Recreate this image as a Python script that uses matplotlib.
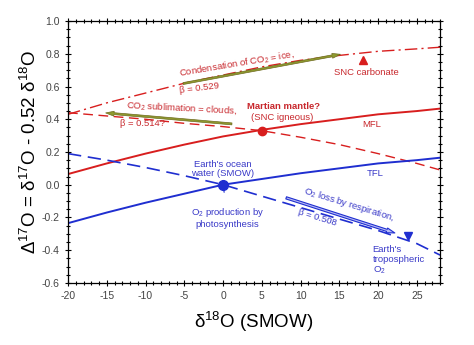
import numpy as np
import matplotlib
matplotlib.use("Agg")
import matplotlib.pyplot as plt
from matplotlib.patches import FancyArrowPatch
from matplotlib.ticker import MultipleLocator, FormatStrFormatter

plt.rcParams['font.family'] = ['Liberation Sans', 'DejaVu Sans']
plt.rcParams['mathtext.fontset'] = 'custom'
plt.rcParams['mathtext.rm'] = 'Liberation Sans'
plt.rcParams['mathtext.it'] = 'Liberation Sans'
plt.rcParams['axes.unicode_minus'] = False

# curves
x_pts = [-20, -15, -10, -5, 0, 5, 10, 15, 20, 25, 28]
condensation = [0.43, 0.50, 0.56, 0.62, 0.67, 0.72, 0.76, 0.79, 0.815, 0.83, 0.84]
sublimation = [0.44, 0.42, 0.40, 0.375, 0.355, 0.33, 0.29, 0.245, 0.19, 0.13, 0.09]
mfl = [0.065, 0.13, 0.19, 0.245, 0.295, 0.335, 0.37, 0.40, 0.43, 0.45, 0.465]
tfl = [-0.235, -0.17, -0.11, -0.055, 0.0, 0.035, 0.07, 0.10, 0.13, 0.15, 0.165]
respiration = [0.19, 0.15, 0.105, 0.055, 0.0, -0.07, -0.14, -0.21, -0.28, -0.36, -0.43]

# sample points
mantle = (5.0, 0.33)
smow = (0.0, 0.0)
snc_carb = (18.1, 0.76)
tropo_o2 = (23.8, -0.315)

# process arrows (start, end)
arrow_cond = ((-5.5, 0.615), (15.5, 0.80))
arrow_subl = ((1.5, 0.37), (-15.5, 0.44))
arrow_resp = ((7.8, -0.075), (22.5, -0.3))

red = '#d81e1e'
red_txt = '#c8282d'
blue = '#1f2ed0'
blue_txt = '#3a3ac8'
olive = '#8e9a2e'

fig = plt.figure(figsize=(4.74, 3.45), dpi=100)
ax = fig.add_axes([0.1435, 0.18, 0.785, 0.759])

ax.plot(x_pts, condensation, color=red, lw=1.0, dashes=(9, 3, 1.5, 3))
ax.plot(x_pts, sublimation, color=red, lw=1.0, dashes=(7, 4))
ax.plot(x_pts, mfl, color=red, lw=1.4)
ax.plot(x_pts, tfl, color=blue, lw=1.4)
ax.plot(x_pts, respiration, color=blue, lw=1.2, dashes=(8, 4))

ax.plot(*mantle, 'o', color=red, ms=6, zorder=5)
ax.plot(*smow, 'o', color=blue, ms=7, zorder=5)
ax.plot(*snc_carb, '^', color=red, ms=6, zorder=5)
ax.plot(*tropo_o2, 'v', color=blue, ms=6, zorder=5)

for (s, e) in [arrow_cond, arrow_subl]:
    ax.add_patch(FancyArrowPatch(s, e, arrowstyle='simple,head_width=3.5,head_length=6,tail_width=1.4',
                                 fc=olive, ec='#6e6a1e', lw=0.5, zorder=4))
ax.add_patch(FancyArrowPatch(arrow_resp[0], arrow_resp[1],
                             arrowstyle='simple,head_width=3.5,head_length=6,tail_width=1.6',
                             fc='#b8bcf5', ec=blue, lw=0.8, zorder=4))

fs = 6.8
ax.text(1.7, 0.74, r'Condensation of CO$_2$ = ice,', color=red_txt, fontsize=fs,
        rotation=9.5, ha='center', va='center')
ax.text(-3.0, 0.59, 'β = 0.529', color=red_txt, fontsize=fs,
        rotation=7, ha='center', va='center')
ax.text(18.5, 0.685, 'SNC carbonate', color=red_txt, fontsize=fs, ha='center', va='center')
ax.text(-5.3, 0.47, r'CO$_2$ sublimation = clouds,', color=red_txt, fontsize=fs,
        rotation=-3, ha='center', va='center')
ax.text(-13.3, 0.372, 'β = 0.514?', color=red_txt, fontsize=fs,
        ha='left', va='center')
ax.text(7.8, 0.475, 'Martian mantle?', color=red_txt, fontsize=fs, fontweight='bold',
        ha='center', va='center')
ax.text(7.6, 0.41, '(SNC igneous)', color=red_txt, fontsize=fs, ha='center', va='center')
ax.text(19.2, 0.37, 'MFL', color=red_txt, fontsize=fs, ha='center', va='center')
ax.text(19.6, 0.07, 'TFL', color=blue_txt, fontsize=fs, ha='center', va='center')
ax.text(0.0, 0.095, "Earth's ocean\nwater (SMOW)", color=blue_txt, fontsize=fs,
        ha='center', va='center', linespacing=1.0)
ax.annotate('O$_2$ production by\nphotosynthesis', xy=smow, xytext=(0.6, -0.2),
            color=blue_txt, fontsize=fs, ha='center', va='center', linespacing=1.1,
            arrowprops=dict(arrowstyle='-', color=blue, lw=0.8, shrinkA=8, shrinkB=2))
ax.text(16.3, -0.12, 'O$_2$ loss by respiration,', color=blue_txt, fontsize=fs,
        rotation=-17, ha='center', va='center')
ax.text(12.1, -0.2, 'β = 0.508', color=blue_txt, fontsize=fs,
        rotation=-17, ha='center', va='center')
ax.text(19.3, -0.465, "Earth's\ntropospheric\nO$_2$", color=blue_txt, fontsize=fs,
        ha='left', va='center', linespacing=1.1)

ax.set_xlim(-20, 28)
ax.set_ylim(-0.6, 1.0)
ax.xaxis.set_major_locator(MultipleLocator(5))
ax.xaxis.set_minor_locator(MultipleLocator(1))
ax.yaxis.set_major_locator(MultipleLocator(0.2))
ax.yaxis.set_minor_locator(MultipleLocator(0.05))
ax.yaxis.set_major_formatter(FormatStrFormatter('%.1f'))
ax.tick_params(which='both', direction='inout', top=True, right=True,
               labelsize=7.5, labelcolor='#444444', width=0.8)
ax.tick_params(which='major', length=5)
ax.tick_params(which='minor', length=2.5)
for sp in ax.spines.values():
    sp.set_linewidth(0.9)

ax.set_xlabel('δ$^{18}$O (SMOW)', fontsize=13.5, labelpad=6)
ax.set_ylabel('Δ$^{17}$O = δ$^{17}$O - 0.52 δ$^{18}$O', fontsize=13.5, labelpad=1)

fig.savefig('out.png', dpi=100)
